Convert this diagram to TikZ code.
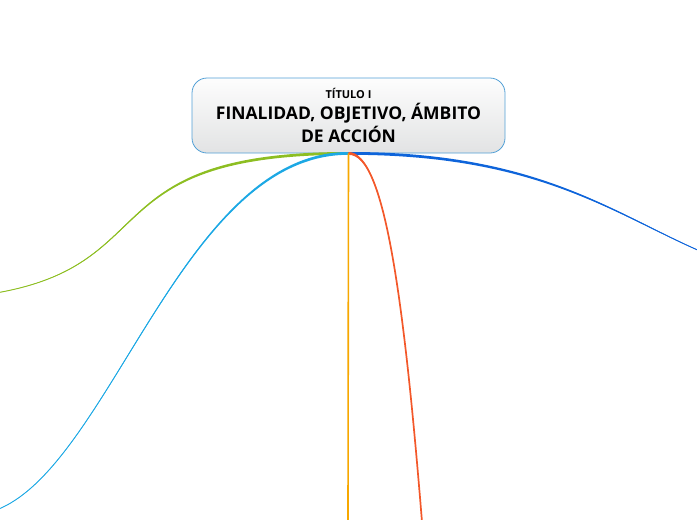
\documentclass[tikz,border=0pt]{standalone}
\usepackage{fontspec}
\setmainfont{Open Sans}
\usepackage{tikz}
\usetikzlibrary{calc}

\definecolor{boxline}{RGB}{82,160,214}
\definecolor{boxtop}{RGB}{253,253,253}
\definecolor{boxbottom}{RGB}{226,227,228}
\definecolor{limegreen}{RGB}{141,190,34}
\definecolor{skyblue}{RGB}{28,168,228}
\definecolor{amber}{RGB}{247,168,0}
\definecolor{redorange}{RGB}{243,88,42}
\definecolor{royalblue}{RGB}{14,100,218}

% tapered branch: [stroke], colour, first control, second control, end
\newcommand{\branch}[5][0.9pt]{%
  \fill[#2] ($(hub)+(0,1.4)$) .. controls ($#3+(0,1.4)$) and #4 .. (#5)
    .. controls #4 and ($#3+(0,-1.4)$) .. ($(hub)+(0,-1.4)$) -- cycle;
  \draw[#2, line width=#1] (hub) .. controls #3 and #4 .. (#5);
}

\begin{document}
\begin{tikzpicture}[x=1pt, y=-1pt]
    \useasboundingbox (0,0) rectangle (697,520);

    \node[draw=boxline, line width=0.8pt, rounded corners=15pt,
          top color=boxtop, bottom color=boxbottom,
          minimum width=313pt, minimum height=75pt, inner sep=0pt,
          align=center, font=\bfseries\fontsize{17.5}{23}\selectfont]
        (title) at (348.5,115.5)
        {{\fontsize{11}{13}\selectfont TÍTULO I}\\[-2pt]FINALIDAD, OBJETIVO, ÁMBITO\\DE ACCIÓN};
    \coordinate (hub) at (title.south);

    \coordinate (left) at (-100,300);
    \coordinate (lowleft) at (-30,515);
    \coordinate (down) at (348,520);
    \coordinate (lowright) at (425,560);
    \coordinate (right) at (800,280);

    \branch{limegreen}{(53,153)}{(195,300)}{left}
    \branch{skyblue}{(170,153)}{(100,515)}{lowleft}
    \branch{royalblue}{(600,153)}{(650,260)}{right}
    \branch[1.7pt]{redorange}{(385,153)}{(405,300)}{lowright}
    \draw[amber, line width=1.6pt] (hub) -- (down);
\end{tikzpicture}
\end{document}
